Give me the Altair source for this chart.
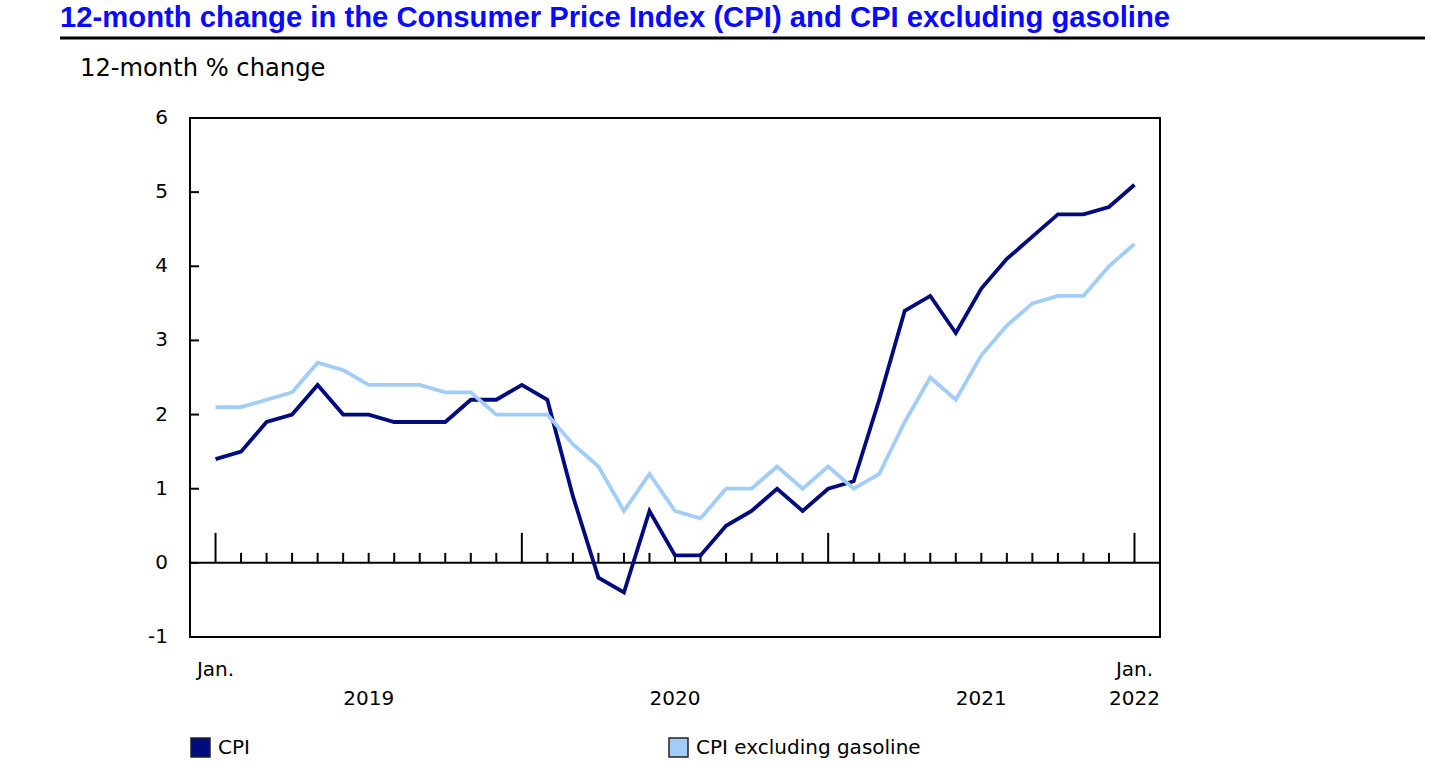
import altair as alt
import pandas as pd

months = [f"{y}-{m:02d}" for y in (2019, 2020, 2021) for m in range(1, 13)] + ["2022-01"]
cpi = [1.4, 1.5, 1.9, 2.0, 2.4, 2.0, 2.0, 1.9, 1.9, 1.9, 2.2, 2.2,
       2.4, 2.2, 0.9, -0.2, -0.4, 0.7, 0.1, 0.1, 0.5, 0.7, 1.0, 0.7,
       1.0, 1.1, 2.2, 3.4, 3.6, 3.1, 3.7, 4.1, 4.4, 4.7, 4.7, 4.8,
       5.1]
cpi_ex_gas = [2.1, 2.1, 2.2, 2.3, 2.7, 2.6, 2.4, 2.4, 2.4, 2.3, 2.3, 2.0,
              2.0, 2.0, 1.6, 1.3, 0.7, 1.2, 0.7, 0.6, 1.0, 1.0, 1.3, 1.0,
              1.3, 1.0, 1.2, 1.9, 2.5, 2.2, 2.8, 3.2, 3.5, 3.6, 3.6, 4.0,
              4.3]
series_names = ["CPI", "CPI excluding gasoline"]
series_colors = ["#000c7d", "#a3cdf9"]
y_ticks = [-1, 0, 1, 2, 3, 4, 5, 6]
year_labels = ["2019", "2020", "2021", "2022"]
year_label_months = ["2019-07", "2020-07", "2021-07", "2022-01"]
jan_label_months = ["2019-01", "2022-01"]
title_text = "12-month change in the Consumer Price Index (CPI) and CPI excluding gasoline"
y_title = "12-month % change"

idx = {m: i for i, m in enumerate(months)}
rows = []
for name, vals in zip(series_names, [cpi, cpi_ex_gas]):
    for m, v in zip(months, vals):
        rows.append({"month": m, "i": idx[m], "value": v, "series": name})
df = pd.DataFrame(rows)

ticks_df = pd.DataFrame({"month": months, "i": [idx[m] for m in months],
                         "major": [1 if m.endswith("-01") else 0 for m in months]})
years_df = pd.DataFrame({"label": year_labels, "i": [idx[m] for m in year_label_months]})
jan_df = pd.DataFrame({"label": ["Jan."] * len(jan_label_months), "i": [idx[m] for m in jan_label_months]})
ytick_df = pd.DataFrame({"v": y_ticks, "label": [str(v) for v in y_ticks]})

xscale = alt.Scale(domain=[-1, len(months)], nice=False, zero=False)
yscale = alt.Scale(domain=[-1, 6], nice=False, zero=False)
FONT = "DejaVu Sans"

lines = alt.Chart(df).mark_line(strokeWidth=3.8, strokeJoin="miter").encode(
    x=alt.X("i:Q", scale=xscale, axis=None),
    y=alt.Y("value:Q", scale=yscale, axis=None),
    color=alt.Color("series:N", scale=alt.Scale(domain=series_names, range=series_colors), legend=None),
    detail="series:N",
)
line_cpi = lines.transform_filter(alt.datum.series == series_names[0])
line_ex = lines.transform_filter(alt.datum.series == series_names[1])

zero_rule = alt.Chart(ytick_df).transform_filter("datum.v == 0").mark_rule(
    color="black", strokeWidth=2).encode(y=alt.Y("v:Q", scale=yscale, axis=None))

ytick_marks = alt.Chart(ytick_df).mark_rule(color="black", strokeWidth=2).encode(
    y=alt.Y("v:Q", scale=yscale, axis=None), x=alt.value(0), x2=alt.value(9))

ytick_labels = alt.Chart(ytick_df).mark_text(font=FONT, fontSize=20, color="#000", align="right",
                                             baseline="middle").encode(
    y=alt.Y("v:Q", scale=yscale, axis=None), x=alt.value(-22), text="label:N")

major_ticks = alt.Chart(ticks_df).transform_filter("datum.major == 1").transform_calculate(
    base="0").mark_rule(color="black", strokeWidth=2, y2Offset=-30).encode(
    x=alt.X("i:Q", scale=xscale, axis=None),
    y=alt.Y("base:Q", scale=yscale, axis=None), y2="base:Q")
minor_ticks = alt.Chart(ticks_df).transform_filter("datum.major == 0").transform_calculate(
    base="0").mark_rule(color="black", strokeWidth=2, y2Offset=-10).encode(
    x=alt.X("i:Q", scale=xscale, axis=None),
    y=alt.Y("base:Q", scale=yscale, axis=None), y2="base:Q")

jan_text = alt.Chart(jan_df).mark_text(font=FONT, fontSize=20, color="#000", baseline="middle").encode(
    x=alt.X("i:Q", scale=xscale, axis=None), y=alt.value(552), text="label:N")
year_text = alt.Chart(years_df).mark_text(font=FONT, fontSize=20, color="#000", baseline="middle").encode(
    x=alt.X("i:Q", scale=xscale, axis=None), y=alt.value(581), text="label:N")

title_df = pd.DataFrame({"t": [title_text]})
ytitle_df = pd.DataFrame({"t": [y_title]})
title_mark = alt.Chart(title_df).mark_text(font="Liberation Sans", fontWeight="bold", fontSize=29.25,
                                           color="#0a0aff", align="left", baseline="alphabetic").encode(
    x=alt.value(-130), y=alt.value(-91), text="t:N")
title_rule = alt.Chart(title_df).mark_rule(color="black", strokeWidth=3).encode(
    x=alt.value(-130), x2=alt.value(1235), y=alt.value(-80))
ytitle_mark = alt.Chart(ytitle_df).mark_text(font=FONT, fontSize=24.2, color="#000", align="left",
                                             baseline="middle").encode(
    x=alt.value(-110), y=alt.value(-49), text="t:N")

legend_layers = []
for name, color, xs in zip(series_names, series_colors, [0, 478]):
    ldf = pd.DataFrame({"t": [name]})
    legend_layers.append(alt.Chart(ldf).mark_rect(color=color, stroke="#222", strokeWidth=1.5).encode(
        x=alt.value(xs + 1), x2=alt.value(xs + 20), y=alt.value(620), y2=alt.value(639)))
    legend_layers.append(alt.Chart(ldf).mark_text(font=FONT, fontSize=20, color="#000", align="left",
                                                  baseline="middle").encode(
        x=alt.value(xs + 28), y=alt.value(630), text="t:N"))

chart = alt.layer(
    zero_rule, ytick_marks, ytick_labels, major_ticks, minor_ticks, line_cpi, line_ex,
    jan_text, year_text, title_mark, title_rule, ytitle_mark, *legend_layers
).properties(
    width=970, height=519,
    autosize=alt.AutoSizeParams(type="none"),
    padding={"left": 190, "top": 118, "right": 276, "bottom": 145},
    background="white",
).configure_view(stroke="black", strokeWidth=2)

chart.save("out.html", embed_options={"renderer": "svg", "actions": False})
